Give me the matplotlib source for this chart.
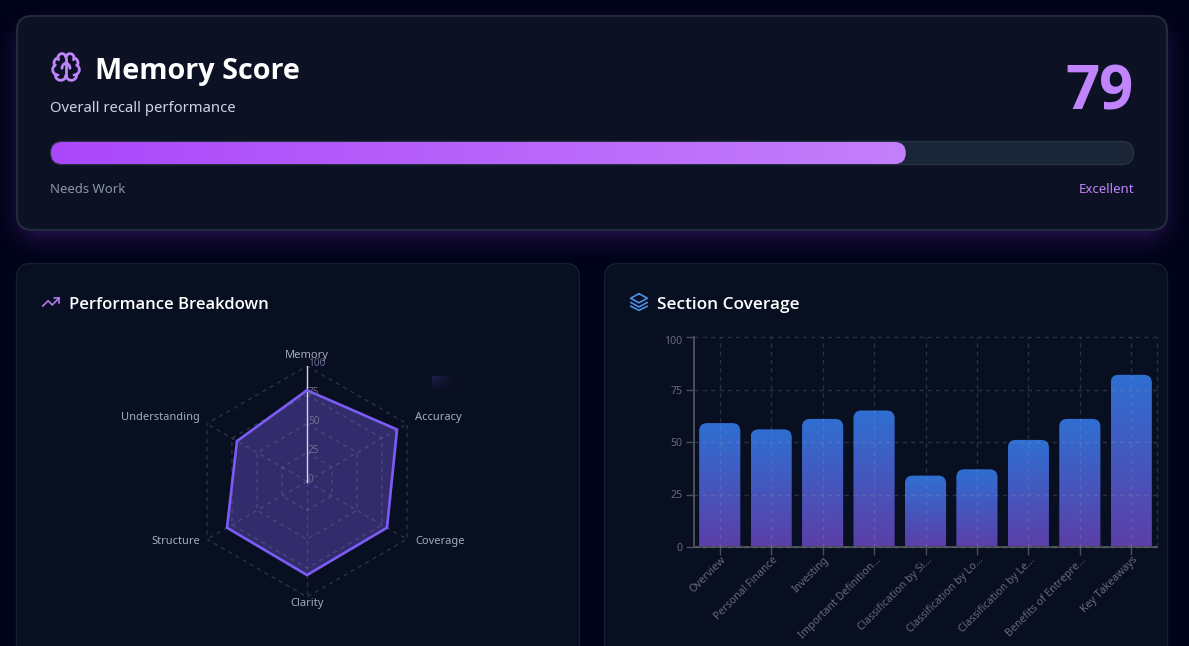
import numpy as np
import matplotlib
matplotlib.use("Agg")
import matplotlib.pyplot as plt
from matplotlib.patches import FancyBboxPatch, PathPatch
from matplotlib.path import Path
from matplotlib.transforms import ScaledTranslation

plt.rcParams['font.family'] = ['Noto Sans', 'DejaVu Sans']
HEAD_FONT = ['Open Sans', 'DejaVu Sans']

score = 79
radar_labels = ['Memory', 'Accuracy', 'Coverage', 'Clarity', 'Structure', 'Understanding']
radar_values = [79, 90, 80, 81, 80, 70]
radar_ticks = [0, 25, 50, 75, 100]
sections = ['Overview', 'Personal Finance', 'Investing', 'Important Definition...',
            'Classification by Si...', 'Classification by Lo...', 'Classification by Le...',
            'Benefits of Entrepre...', 'Key Takeaways']
coverage = [59, 56, 61, 65, 34, 37, 51, 61, 82]
coverage_ticks = [0, 25, 50, 75, 100]

W, H = 1189, 646
PURPLE = '#c084fc'


def rgb(c):
    return np.array(matplotlib.colors.to_rgb(c))


def box_dist(xx, yy, x0, y0, x1, y1, r):
    # signed distance to a rounded rectangle
    cx, cy = (x0 + x1) / 2, (y0 + y1) / 2
    qx = np.abs(xx - cx) - (x1 - x0) / 2 + r
    qy = np.abs(yy - cy) - (y1 - y0) / 2 + r
    return np.hypot(np.maximum(qx, 0), np.maximum(qy, 0)) + np.minimum(np.maximum(qx, qy), 0) - r


def svg_arc(p0, p1, r, large, sweep, n=24):
    # endpoint form of an svg arc, returned as sampled points
    p0, p1 = np.array(p0, float), np.array(p1, float)
    mid = (p0 - p1) / 2
    r = max(r, np.hypot(*mid))
    k = np.sqrt(max(r ** 2 - mid @ mid, 0) / (mid @ mid))
    if large == sweep:
        k = -k
    c = k * np.array([mid[1], -mid[0]]) + (p0 + p1) / 2
    a0 = np.arctan2(*(p0 - c)[::-1])
    a1 = np.arctan2(*(p1 - c)[::-1])
    if sweep and a1 < a0:
        a1 += 2 * np.pi
    if not sweep and a1 > a0:
        a1 -= 2 * np.pi
    t = np.linspace(a0, a1, n)
    return np.c_[c[0] + r * np.cos(t), c[1] + r * np.sin(t)]


def icon(ax, strokes, x, y, size, color, lw):
    s = size / 24
    for pts in strokes:
        pts = np.asarray(pts)
        ax.plot(x + pts[:, 0] * s, y + pts[:, 1] * s, color=color, lw=lw,
                solid_capstyle='round', solid_joinstyle='round')


fig = plt.figure(figsize=(W / 100, H / 100), dpi=100, facecolor='#02041a')

# page background with the glow under the score card
bg = fig.add_axes([0, 0, 1, 1])
bg.set_xlim(0, W)
bg.set_ylim(H, 0)
bg.axis('off')
bg.autoscale(False)
xx, yy = np.meshgrid(np.arange(W) + .5, np.arange(H) + .5)
glow = np.clip(1 - box_dist(xx, yy, 30, 40, 1154, 226, 14) / 38, 0, 1) ** 2
shade = rgb('#01031a') + glow[..., None] * (rgb('#2a1350') - rgb('#01031a'))
bg.imshow(shade, extent=(0, W, H, 0), aspect='auto', zorder=0)

bg.add_patch(FancyBboxPatch((17, 16), 1150, 214, boxstyle='round,pad=0,rounding_size=15',
                            fc='#0c1224', ec='#202c3e', lw=1.5, zorder=1))
for x0 in (16.5, 604.5):
    bg.add_patch(FancyBboxPatch((x0, 263.5), 563, 420, boxstyle='round,pad=0,rounding_size=14',
                                fc='#080f20', ec='#151e2f', lw=1, zorder=1))

# score header
brain = [
    [(12, 18), (12, 5)],
    np.r_[svg_arc((15, 13), (12, 9), 4.17, 0, 0), svg_arc((12, 9), (9, 13), 4.17, 0, 0)],
    np.r_[svg_arc((17.598, 6.5), (12, 5), 3, 1, 0), svg_arc((12, 5), (6.402, 6.5), 3, 1, 0)],
    svg_arc((17.997, 5.125), (20.523, 10.895), 4, 0, 1),
    svg_arc((18, 18), (20, 10.536), 4, 0, 0),
    np.r_[svg_arc((19.967, 17.483), (12, 18), 4, 1, 1), svg_arc((12, 18), (4.033, 17.483), 4, 1, 1)],
    svg_arc((6, 18), (4, 10.536), 4, 0, 1),
    svg_arc((6.003, 5.125), (3.477, 10.895), 4, 0, 0),
]
icon(bg, brain, 50, 51, 32, PURPLE, 2.0)
bg.text(95, 67.5, 'Memory Score', color='white', family=HEAD_FONT, fontsize=20.7, fontweight='bold', va='center_baseline')
bg.text(50, 107, 'Overall recall performance', color='#cbd5e1', fontsize=10.7, va='center_baseline')
bg.text(1134, 87, str(score), color=PURPLE, family=HEAD_FONT, fontsize=43, fontweight='bold', ha='right', va='center_baseline')

# progress bar, fill width follows the score
track_x, track_w = 51, 1082
bg.add_patch(FancyBboxPatch((track_x - .5, 141.5), track_w + 1, 23, boxstyle='round,pad=0,rounding_size=11.5',
                            fc='#1a2637', ec='#253245', lw=1, zorder=2))
fill_w = track_w * score / 100
fill_clip = FancyBboxPatch((track_x, 142), fill_w, 22, boxstyle='round,pad=0,rounding_size=11',
                           fc='none', ec='none', zorder=2, transform=bg.transData)
bg.add_patch(fill_clip)
t = np.linspace(0, 1, 256)[None, :, None]
bar_grad = rgb('#ab47fb') + t * (rgb('#c47ffb') - rgb('#ab47fb'))
img = bg.imshow(bar_grad, extent=(track_x, track_x + fill_w, 164, 142), aspect='auto', zorder=3, interpolation='bilinear')
img.set_clip_path(fill_clip)
bg.text(50, 188, 'Needs Work', color='#8a94a8', fontsize=9.5, va='center_baseline')
bg.text(1134, 188, 'Excellent', color=PURPLE, fontsize=9.5, ha='right', va='center_baseline')

# card titles
trend = [[(22, 7), (13.5, 15.5), (8.5, 10.5), (2, 17)], [(16, 7), (22, 7), (22, 13)]]
icon(bg, trend, 41, 292, 20, '#b57bee', 1.2)
bg.text(69, 303, 'Performance Breakdown', color='white', family=HEAD_FONT, fontsize=12.0, fontweight='semibold', va='center_baseline')
layers = [[(12, 2), (22, 7.5), (12, 13), (2, 7.5), (12, 2)],
          [(2, 12.5), (12, 18), (22, 12.5)],
          [(2, 17), (12, 22), (22, 17)]]
icon(bg, layers, 629, 292, 20, '#4a90e8', 1.2)
bg.text(657, 303, 'Section Coverage', color='white', family=HEAD_FONT, fontsize=12.4, fontweight='semibold', va='center_baseline')

# faint square next to the radar
fx, fy = np.meshgrid(np.linspace(1, 0, 24), np.linspace(1, 0, 16))
patch = np.zeros((16, 24, 4))
patch[..., :3] = rgb('#2a2356')
patch[..., 3] = fx * fy * .8
bg.imshow(patch, extent=(432, 456, 392, 376), aspect='auto', zorder=2)

# radar
R = 115.5
radar = fig.add_axes([(307 - R) / W, 1 - (481.5 + R) / H, 2 * R / W, 2 * R / H], projection='polar')
radar.set_theta_zero_location('N')
radar.set_theta_direction(-1)
radar.set_ylim(0, 100)
radar.axis('off')
radar.patch.set_visible(False)
theta = np.deg2rad(np.arange(len(radar_labels)) * 60)
closed = np.r_[theta, theta[0]]
vals = np.r_[radar_values, radar_values[0]]
radar.fill(closed, vals, color='#7c5cf0', alpha=.37, lw=0, zorder=2)
for tick in radar_ticks[1:]:
    radar.plot(closed, [tick] * len(closed), color='#94a3b8', alpha=.24, lw=1, dashes=(3, 3), zorder=3)
for th in theta[1:]:
    radar.plot([th, th], [0, 100], color='#94a3b8', alpha=.24, lw=1, dashes=(3, 3), zorder=3)
radar.plot([0, 0], [0, 100], color='#d9d4ea', lw=1, zorder=4)
radar.plot(closed, vals, color='#7c5cf5', lw=1.9, zorder=5, solid_joinstyle='miter', clip_on=False)
offsets = [(0, 12, 'center'), (8, 8, 'left'), (8, -1, 'left'), (0, -5, 'center'), (-7, -1, 'right'), (-7, 8, 'right')]
for th, lab, (dx, dy, ha) in zip(theta, radar_labels, offsets):
    radar.annotate(lab, (th, 100), xytext=(dx, dy), textcoords='offset pixels', ha=ha, va='center_baseline',
                   color='#a3abbc', fontsize=8.0, annotation_clip=False)
for tick in radar_ticks:
    radar.annotate(str(tick), (0, tick), xytext=(1, 3.5), textcoords='offset pixels', ha='left', va='center_baseline',
                   color='#706c92', fontsize=7.2, zorder=6, annotation_clip=False)

# section coverage bars
ax = fig.add_axes([694 / W, 1 - 547 / H, (1157 - 694) / W, 210 / H])
ax.patch.set_visible(False)
ax.set_xlim(-.5, len(sections) - .5)
ax.set_ylim(0, 100)
ax.autoscale(False)
rx, ry = 8 / (463 / 9), 8 / 2.1
t = np.linspace(0, 1, 256)[:, None, None]
col_grad = rgb('#2f6fd2') + t * (rgb('#5b3fa8') - rgb('#2f6fd2'))
for i, v in enumerate(coverage):
    l, r = i - .4, i + .4
    outline = Path([(l, 0), (l, v - ry), (l, v), (l + rx, v), (r - rx, v), (r, v), (r, v - ry), (r, 0), (l, 0)],
                   [Path.MOVETO, Path.LINETO, Path.CURVE3, Path.CURVE3, Path.LINETO,
                    Path.CURVE3, Path.CURVE3, Path.LINETO, Path.CLOSEPOLY])
    shape = PathPatch(outline, fc='none', ec='none', transform=ax.transData)
    ax.add_patch(shape)
    im = ax.imshow(col_grad, extent=(l, r, 0, v), aspect='auto', zorder=1, interpolation='bilinear')
    im.set_clip_path(shape)
ax.set_axisbelow(False)
ax.grid(True, color='#94a3b8', alpha=.23, lw=1, dashes=(3, 3), zorder=3)
for line in ax.get_xgridlines() + ax.get_ygridlines():
    line.set_clip_on(False)
ax.axvline(len(sections) - .5, color='#94a3b8', alpha=.23, lw=1, dashes=(3, 3), clip_on=False)
ax.set_yticks(coverage_ticks)
ax.set_xticks(range(len(sections)))
ax.set_xticklabels(sections, rotation=45, ha='right', rotation_mode='anchor')
ax.tick_params(axis='both', colors='#4b5058', length=5.5, width=1, labelcolor='#666c78', labelsize=7.6, pad=3)
# nudge the labels: x labels up and right, the top y label stays inside the plot height
shift = ScaledTranslation(1 / 100, 4 / 100, fig.dpi_scale_trans)
for lab in ax.get_xticklabels():
    lab.set_transform(lab.get_transform() + shift)
top_label = ax.get_yticklabels()[-1]
top_label.set_transform(top_label.get_transform() + ScaledTranslation(0, -3 / 100, fig.dpi_scale_trans))
for sp in ('top', 'right'):
    ax.spines[sp].set_visible(False)
for sp in ('left', 'bottom'):
    ax.spines[sp].set_color('#4b5058')
    ax.spines[sp].set_linewidth(1.4)

fig.savefig('out.png', dpi=100, facecolor=fig.get_facecolor())
